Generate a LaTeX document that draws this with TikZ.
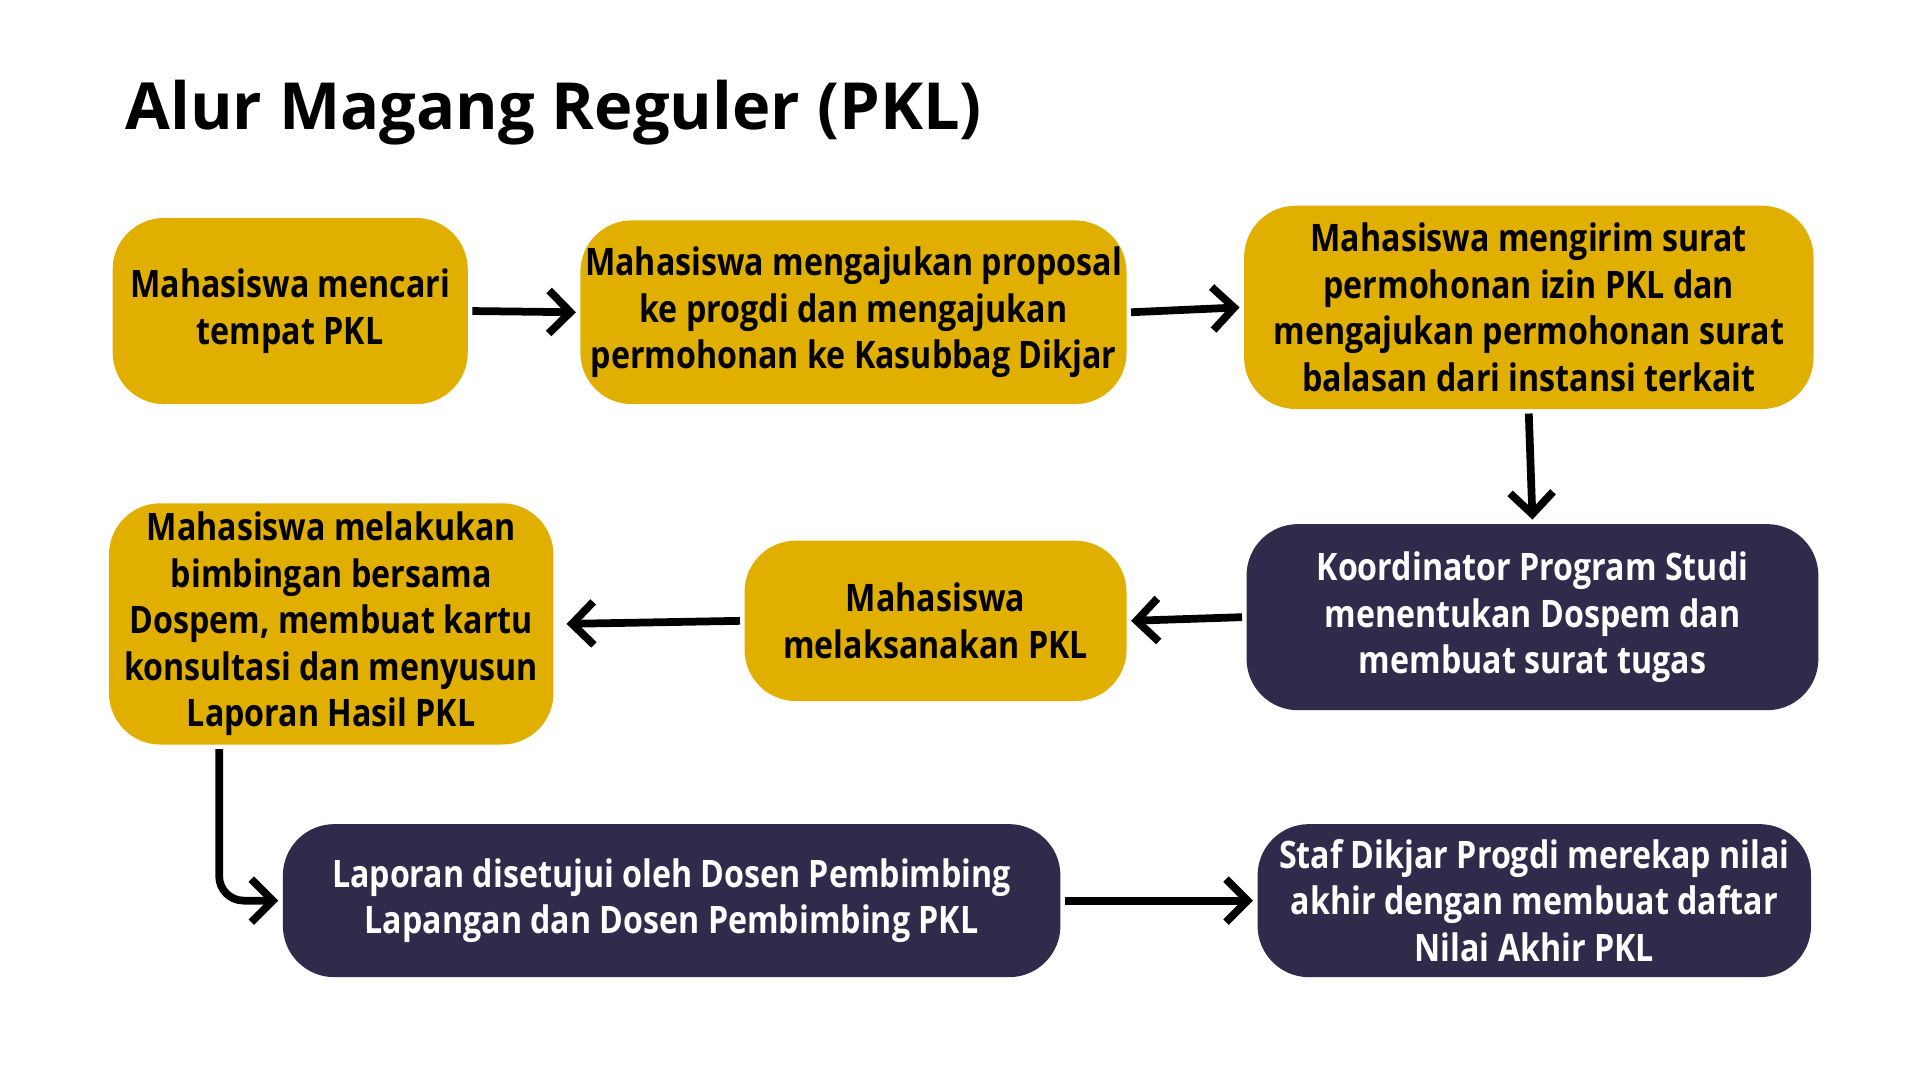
\documentclass[tikz,border=0pt]{standalone}
\usepackage{fontspec}
\setmainfont{Open Sans}
\newfontfamily\narrowfont[FakeStretch=0.85]{Open Sans}
\usetikzlibrary{arrows.meta}
\definecolor{gold}{HTML}{E0AF00}
\definecolor{navy}{HTML}{2E2B4B}
\tikzset{
  yb/.style={fill=gold, rounded corners=0.42cm, align=center, inner sep=0pt, font=\narrowfont\fontsize{8.8}{10.8}\selectfont\bfseries, text=black},
  nb/.style={fill=navy, rounded corners=0.42cm, align=center, inner sep=0pt, font=\narrowfont\fontsize{8.8}{10.8}\selectfont\bfseries, text=white},
  conn/.style={line width=1.8pt, -{Straight Barb[length=5pt,width=10pt,line width=1.8pt]}}
}
\begin{document}
\begin{tikzpicture}
\useasboundingbox (0,0) rectangle (15.68,-8.82);
\node[anchor=base west, font=\fontsize{15.1}{18}\selectfont\bfseries] (t) at (0.9,-1.06) {Alur Magang Reguler (PKL)};
\node[yb, minimum width=2.9cm, minimum height=1.52cm] (a) at (2.37,-2.54) {Mahasiswa mencari\\tempat PKL};
\node[yb, minimum width=4.46cm, minimum height=1.5cm] (b) at (6.97,-2.55) {Mahasiswa mengajukan proposal\\ke progdi dan mengajukan\\permohonan ke Kasubbag Dikjar};
\node[yb, minimum width=4.65cm, minimum height=1.66cm] (c) at (12.485,-2.51) {Mahasiswa mengirim surat\\permohonan izin PKL dan\\mengajukan permohonan surat\\balasan dari instansi terkait};
\node[nb, minimum width=4.67cm, minimum height=1.52cm] (d) at (12.515,-5.04) {Koordinator Program Studi\\menentukan Dospem dan\\membuat surat tugas};
\node[yb, minimum width=3.12cm, minimum height=1.31cm] (e) at (7.64,-5.07) {Mahasiswa\\melaksanakan PKL};
\node[yb, minimum width=3.63cm, minimum height=1.97cm] (f) at (2.705,-5.095) {Mahasiswa melakukan\\bimbingan bersama\\Dospem, membuat kartu\\konsultasi dan menyusun\\Laporan Hasil PKL};
\node[nb, minimum width=6.35cm, minimum height=1.25cm] (g) at (5.485,-7.355) {Laporan disetujui oleh Dosen Pembimbing\\Lapangan dan Dosen Pembimbing PKL};
\node[nb, minimum width=4.52cm, minimum height=1.25cm] (h) at (12.53,-7.355) {Staf Dikjar Progdi merekap nilai\\akhir dengan membuat daftar\\Nilai Akhir PKL};
\draw[conn] ([xshift=0.03cm]a.east) -- ([xshift=-0.03cm]b.west);
\draw[conn] ([xshift=0.03cm]b.east) -- ([xshift=-0.03cm]c.west);
\draw[conn] ([yshift=-0.03cm]c.south) -- ([yshift=0.03cm]d.north);
\draw[conn] ([xshift=-0.03cm]d.west) -- ([xshift=0.03cm]e.east);
\draw[conn] ([xshift=-0.03cm]e.west) -- ([xshift=0.1cm]f.east);
\draw[conn, rounded corners=0.2cm] ([xshift=1.79cm-2.705cm, yshift=-0.03cm]f.south) |- ([xshift=-0.03cm]g.west);
\draw[conn] ([xshift=0.03cm]g.east) -- ([xshift=-0.03cm]h.west);
\end{tikzpicture}
\end{document}
